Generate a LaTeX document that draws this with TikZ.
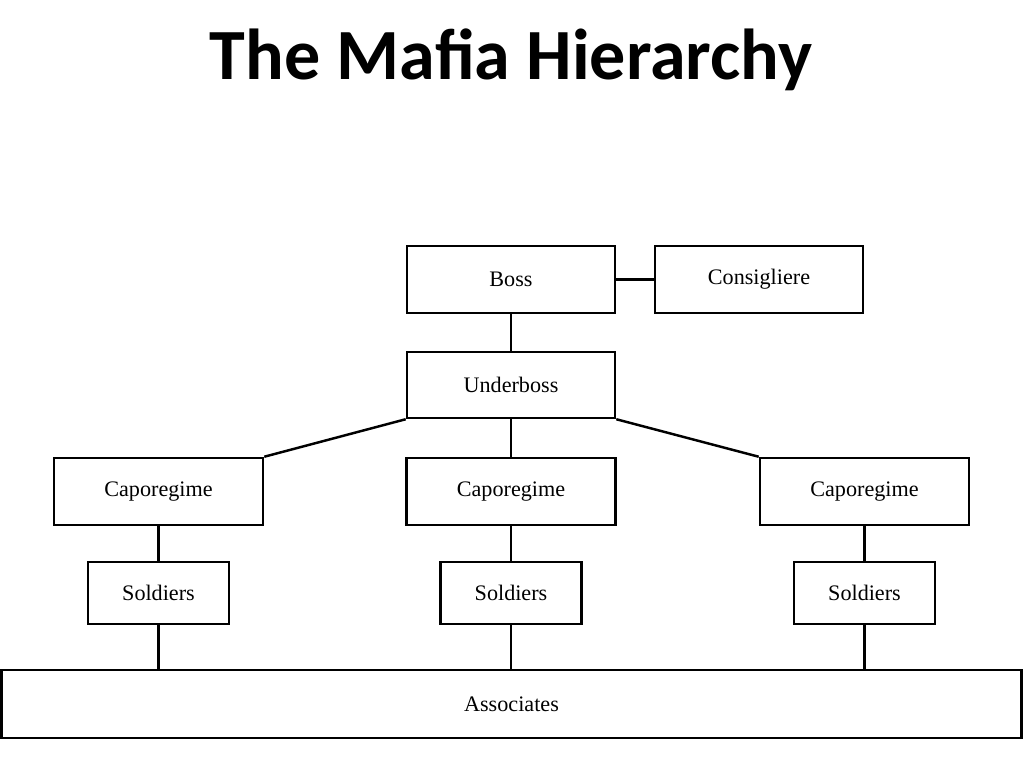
\documentclass[tikz,border=0pt]{standalone}
\usepackage{fontspec}
\setmainfont{Liberation Serif}
\newfontfamily\titlefont{Carlito}
\begin{document}
\begin{tikzpicture}[x=0.01cm, y=-0.01cm,
    rank/.style={draw, line width=0.7pt, inner sep=0pt, font=\fontsize{6.3}{7}\selectfont},
    link/.style={line width=0.7pt}]
    \useasboundingbox (0,0) rectangle (1024,768);

    % Title
    \node (title) at (511,60) {\titlefont\bfseries\fontsize{20.5}{24}\selectfont The Mafia Hierarchy};

    % Top of the family
    \node[rank, minimum width=2.08cm, minimum height=0.67cm] (boss) at (511,279.5) {Boss};
    \node[rank, minimum width=2.08cm, minimum height=0.67cm] (consig) at (759,279.5) {Consigliere};
    \node[rank, minimum width=2.08cm, minimum height=0.66cm] (under) at (511,385) {Underboss};

    % Crews
    \foreach \nm/\cx in {L/158.5, M/511, R/864.5} {
        \node[rank, minimum width=2.09cm, minimum height=0.67cm] (capo\nm) at (\cx,491.5) {Caporegime};
        \node[rank, minimum width=1.41cm, minimum height=0.62cm] (sold\nm) at (\cx,593) {Soldiers};
    }
    \node[rank, minimum width=10.19cm, minimum height=0.68cm] (assoc) at (511.5,704) {Associates};

    % Links
    \draw[link] (boss) -- (consig);
    \draw[link] (boss) -- (under);
    \draw[link] (under.south west) -- (capoL.north east);
    \draw[link] (under) -- (capoM);
    \draw[link] (under.south east) -- (capoR.north west);
    \foreach \nm in {L, M, R} {
        \draw[link] (capo\nm) -- (sold\nm);
        \draw[link] (sold\nm) -- (sold\nm |- assoc.north);
    }
\end{tikzpicture}
\end{document}
